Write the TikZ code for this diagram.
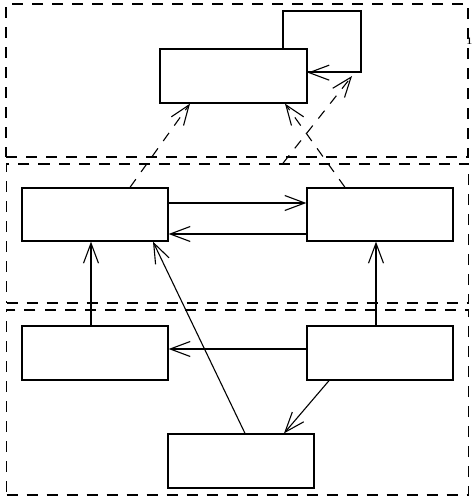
\documentclass[tikz,border=0pt]{standalone}
\usetikzlibrary{arrows.meta}
\begin{document}
\begin{tikzpicture}[x=1pt,y=-1pt,
  box/.style={draw,line width=1.3pt,fill=white,rectangle,inner sep=0pt},
  region/.style={draw,line width=1.6pt,dash pattern=on 11pt off 9pt,rectangle,inner sep=0pt},
  arr/.style={line width=1.1pt,-{Straight Barb[length=20pt,width=15pt,line width=1.1pt]}},
  darr/.style={arr,dash pattern=on 10pt off 9pt}]
\useasboundingbox (0,0) rectangle (474,499);
% regions
\node[region,minimum width=462pt,minimum height=153pt] (T) at (237,80.5) {};
\node[region,minimum width=462pt,minimum height=139pt] (M) at (237.5,233.5) {};
\node[region,minimum width=462pt,minimum height=185pt] (L) at (237.5,402.5) {};
% boxes
\node[box,minimum width=78pt,minimum height=61pt] (B) at (322,41.5) {};
\node[box,minimum width=147pt,minimum height=54pt] (A) at (233.5,76) {};
\node[box,minimum width=146pt,minimum height=53pt] (C) at (95,214.5) {};
\node[box,minimum width=146pt,minimum height=53pt] (D) at (380,214.5) {};
\node[box,minimum width=146pt,minimum height=54pt] (E) at (95,353) {};
\node[box,minimum width=146pt,minimum height=54pt] (F) at (380,353) {};
\node[box,minimum width=146pt,minimum height=54pt] (G) at (241,461) {};
\node[font=\normalsize\bfseries,inner sep=0pt,anchor=center] (one) at (469.5,41) {1};
% arrows
\draw[arr] (B.south east) -- (A.east |- B.south);
\draw[arr] (C.east |- 0,203) -- (D.west |- 0,203);
\draw[arr] (D.west |- 0,234) -- (C.east |- 0,234);
\draw[arr] (E.north -| 91,0) -- (C.south -| 91,0);
\draw[arr] (F.north -| 376,0) -- (D.south -| 376,0);
\draw[arr] (F.west |- 0,349) -- (E.east |- 0,349);
\draw[arr] (G.north -| 245,0) -- (C.south -| 153,0);
\draw[arr] (F.south -| 329,0) -- (G.north -| 284,0);
\draw[darr] (C.north -| 130,0) -- (A.south -| 190,0);
\draw[darr] (D.north -| 345,0) -- (A.south -| 285,0);
\draw[darr] (M.north -| 283,0) -- (352,76);
\end{tikzpicture}
\end{document}
